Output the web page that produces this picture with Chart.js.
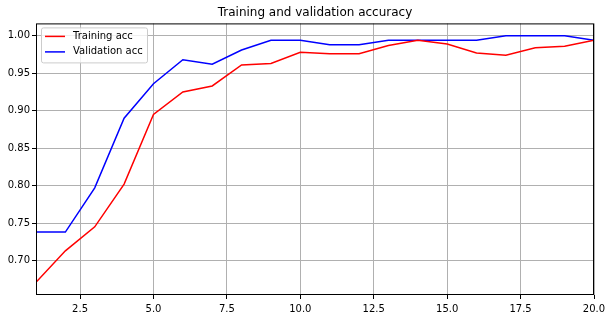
<!DOCTYPE html>
<html>
<head>
<meta charset="utf-8">
<script src="https://cdn.jsdelivr.net/npm/chart.js@4/dist/chart.umd.min.js"></script>
<style>
  html, body { margin: 0; padding: 0; background: #fff; }
  #wrap { width: 612px; height: 319px; }
</style>
</head>
<body>
<div id="wrap"><canvas id="acc-plot" width="612" height="319"></canvas></div>
<script>
// epochs and accuracy values
const epochs = [1, 2, 3, 4, 5, 6, 7, 8, 9, 10, 11, 12, 13, 14, 15, 16, 17, 18, 19, 20];
const trainingAcc = [0.671, 0.713, 0.745, 0.802, 0.895, 0.925, 0.933, 0.961, 0.963, 0.978,
                     0.976, 0.976, 0.987, 0.994, 0.989, 0.977, 0.974, 0.984, 0.986, 0.994];
const validationAcc = [0.738, 0.738, 0.797, 0.890, 0.936, 0.968, 0.962, 0.981, 0.994, 0.994,
                       0.988, 0.988, 0.994, 0.994, 0.994, 0.994, 1.000, 1.000, 1.000, 0.994];
const xTicks = [2.5, 5.0, 7.5, 10.0, 12.5, 15.0, 17.5, 20.0];
const yTicks = [0.70, 0.75, 0.80, 0.85, 0.90, 0.95, 1.00];
const seriesLabels = ['Training acc', 'Validation acc'];
const seriesColors = ['#ff0000', '#0000ff'];

const FONT = 'DejaVu Sans';

// box around the plot area, like matplotlib spines
const framePlugin = {
    id: 'frame',
    afterDraw(chart) {
        const a = chart.chartArea;
        const ctx = chart.ctx;
        ctx.save();
        ctx.strokeStyle = '#000';
        ctx.lineWidth = 1;
        ctx.strokeRect(a.left + 0.5, a.top + 0.5, a.right - a.left - 1, a.bottom - a.top - 1);
        ctx.restore();
    }
};

// legend drawn inside the plot area, upper left
const innerLegend = {
    id: 'innerLegend',
    afterDraw(chart) {
        const a = chart.chartArea;
        const ctx = chart.ctx;
        const x = a.left + 5, y = a.top + 4, w = 106, h = 35;
        ctx.save();
        ctx.fillStyle = 'rgba(255,255,255,0.8)';
        ctx.strokeStyle = '#cccccc';
        ctx.lineWidth = 1;
        ctx.beginPath();
        ctx.roundRect(x + 0.5, y + 0.5, w, h, 2);
        ctx.fill();
        ctx.stroke();
        ctx.font = '10px ' + FONT;
        ctx.textBaseline = 'middle';
        chart.data.datasets.forEach((ds, i) => {
            const ly = y + 9 + i * 15.5;
            ctx.strokeStyle = ds.borderColor;
            ctx.lineWidth = 1.5;
            ctx.beginPath();
            ctx.moveTo(x + 4, ly);
            ctx.lineTo(x + 24, ly);
            ctx.stroke();
            ctx.fillStyle = '#000';
            ctx.fillText(ds.label, x + 32, ly);
        });
        ctx.restore();
    }
};

const ctx = document.getElementById('acc-plot').getContext('2d');
const chartAcc = new Chart(ctx, {
    type: 'line',
    data: {
        datasets: [
            {
                label: seriesLabels[0],
                data: epochs.map((e, i) => ({x: e, y: trainingAcc[i]})),
                borderColor: seriesColors[0],
                borderWidth: 1.5,
                pointRadius: 0,
                fill: false,
                tension: 0
            },
            {
                label: seriesLabels[1],
                data: epochs.map((e, i) => ({x: e, y: validationAcc[i]})),
                borderColor: seriesColors[1],
                borderWidth: 1.5,
                pointRadius: 0,
                fill: false,
                tension: 0
            }
        ]
    },
    options: {
        responsive: false,
        animation: false,
        layout: {
            padding: {left: 0, right: 18, top: 0, bottom: 0}
        },
        scales: {
            x: {
                type: 'linear',
                min: 1,
                max: 20,
                afterBuildTicks: scale => { scale.ticks = xTicks.map(v => ({value: v})); },
                afterFit: scale => { scale.height = 24; },
                ticks: {
                    font: {family: FONT, size: 10},
                    color: '#000',
                    padding: 4,
                    maxRotation: 0,
                    callback: v => v.toFixed(1)
                },
                grid: {
                    color: '#b0b0b0',
                    lineWidth: 1,
                    tickColor: '#000',
                    tickLength: 4
                },
                border: {display: false}
            },
            y: {
                min: 0.654,
                max: 1.0165,
                afterBuildTicks: scale => { scale.ticks = yTicks.map(v => ({value: v})); },
                afterFit: scale => { scale.width = 36; },
                ticks: {
                    font: {family: FONT, size: 10},
                    color: '#000',
                    padding: 2,
                    callback: v => v.toFixed(2)
                },
                grid: {
                    color: '#b0b0b0',
                    lineWidth: 1,
                    tickColor: '#000',
                    tickLength: 4
                },
                border: {display: false}
            }
        },
        plugins: {
            title: {
                display: true,
                fullSize: false,
                text: 'Training and validation accuracy',
                color: '#000',
                font: {family: FONT, size: 12, weight: 'normal'},
                padding: {top: 6, bottom: 3}
            },
            legend: {display: false},
            tooltip: {enabled: false}
        }
    },
    plugins: [framePlugin, innerLegend]
});
</script>
</body>
</html>
